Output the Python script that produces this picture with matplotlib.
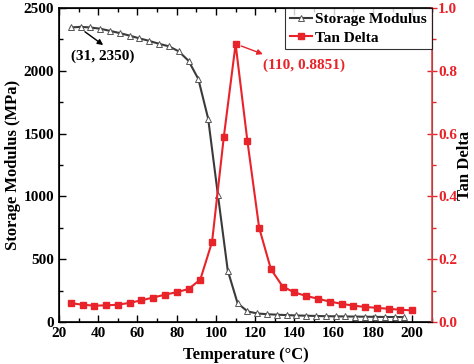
import matplotlib
matplotlib.use('Agg')
import matplotlib.pyplot as plt
from matplotlib.ticker import MultipleLocator, FormatStrFormatter

# Datos
temp_mod = [26, 31, 36, 41, 46, 51, 56, 61, 66, 71, 76, 81, 86, 91, 96, 101,
            106, 111, 116, 121, 126, 131, 136, 141, 146, 151, 156, 161, 166,
            171, 176, 181, 186, 191, 196]
storage_mod = [2345, 2350, 2345, 2335, 2318, 2300, 2280, 2258, 2238, 2215,
               2195, 2155, 2080, 1935, 1620, 1010, 410, 150, 85, 68, 62, 58,
               55, 52, 50, 48, 46, 45, 44, 43, 42, 41, 40, 40, 39]

temp_tan = [26, 32, 38, 44, 50, 56, 62, 68, 74, 80, 86, 92, 98, 104, 110,
            116, 122, 128, 134, 140, 146, 152, 158, 164, 170, 176, 182, 188,
            194, 200]
tan_delta = [0.060, 0.055, 0.052, 0.053, 0.055, 0.061, 0.069, 0.078, 0.087,
             0.095, 0.105, 0.135, 0.255, 0.590, 0.8851, 0.577, 0.300, 0.168,
             0.113, 0.094, 0.083, 0.074, 0.065, 0.058, 0.052, 0.048, 0.045,
             0.042, 0.039, 0.037]

RED = '#e8232a'
GRAY = '#3a3a3a'

plt.rcParams['font.family'] = 'Liberation Serif'
plt.rcParams['font.weight'] = 'bold'
plt.rcParams['font.size'] = 11

fig = plt.figure(figsize=(4.74, 3.64), dpi=100)
ax = fig.add_axes([0.1245, 0.1154, 0.7865, 0.8626])
ax2 = ax.twinx()

l1, = ax.plot(temp_mod, storage_mod, color=GRAY, lw=1.5, marker='^', ms=5,
              mfc='white', mec='#555555', mew=0.7, label='Storage Modulus', zorder=3)
l2, = ax2.plot(temp_tan, tan_delta, color=RED, lw=1.5, marker='s', ms=3.8,
               mfc=RED, mec=RED, label='Tan Delta', zorder=3)

ax.set_xlim(20, 210)
ax.set_ylim(0, 2500)
ax2.set_ylim(0, 1.0)

ax.xaxis.set_major_locator(MultipleLocator(20))
ax.xaxis.set_minor_locator(MultipleLocator(10))
ax.yaxis.set_major_locator(MultipleLocator(500))
ax.yaxis.set_minor_locator(MultipleLocator(250))
ax2.yaxis.set_major_locator(MultipleLocator(0.2))
ax2.yaxis.set_minor_locator(MultipleLocator(0.1))
ax2.yaxis.set_major_formatter(FormatStrFormatter('%.1f'))

ax.tick_params(axis='x', which='both', direction='in', top=True, labelsize=11)
ax.tick_params(axis='y', which='both', direction='in', labelsize=11)
ax.tick_params(which='major', length=5, width=1)
ax.tick_params(which='minor', length=3, width=1)
ax2.tick_params(axis='y', which='major', direction='inout', length=7,
                colors=RED, labelsize=11, width=1, pad=1)
ax2.tick_params(axis='y', which='minor', direction='out', length=3,
                color=RED, width=1)
ax2.spines['right'].set_color('#dd4a4f')
for sp in ['left', 'bottom', 'top']:
    ax.spines[sp].set_linewidth(1.2)
ax2.spines['right'].set_linewidth(1.2)

ax.set_xlabel('Temperature (°C)', fontsize=12, fontweight='bold', labelpad=5)
ax.set_ylabel('Storage Modulus (MPa)', fontsize=12, fontweight='bold', labelpad=2)
ax2.set_ylabel('Tan Delta', fontsize=12, fontweight='bold', labelpad=0)

# Anotaciones: la flecha sale del punto hacia el texto
ax.text(42.5, 2118, '(31, 2350)', fontsize=11, fontweight='bold',
        color='black', ha='center', va='center')
ax.annotate('', xy=(42.5, 2205), xytext=(33.2, 2311),
            arrowprops=dict(arrowstyle='-|>', color='black', lw=1,
                            shrinkA=0, shrinkB=0, mutation_scale=8))
ax2.text(145, 0.818, '(110, 0.8851)', fontsize=11, fontweight='bold',
         color=RED, ha='center', va='center')
ax2.annotate('', xy=(123.9, 0.853), xytext=(112.9, 0.879),
             arrowprops=dict(arrowstyle='-|>', color=RED, lw=1,
                             shrinkA=0, shrinkB=0, mutation_scale=8))

leg = ax2.legend(handles=[l1, l2], loc='upper right', fontsize=11,
                 frameon=True, fancybox=False, edgecolor='black',
                 borderpad=0.3, labelspacing=0.3, handlelength=1.5,
                 handletextpad=0.2, borderaxespad=0.0)
leg.get_frame().set_linewidth(0.8)

fig.savefig('out.png', dpi=100)
